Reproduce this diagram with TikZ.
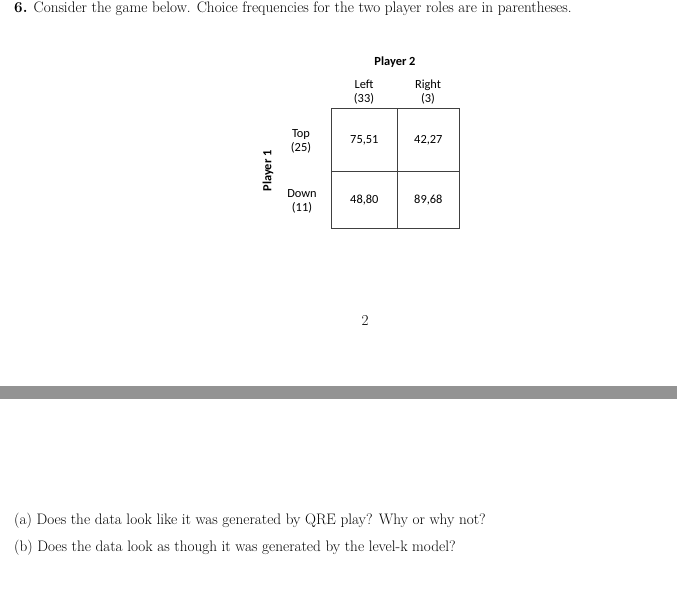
\documentclass[tikz,border=0pt]{standalone}
\usepackage{fontspec}
\newfontfamily\calib{Carlito}
\usetikzlibrary{positioning}
\tikzset{
  tab/.style={font=\calib\fontsize{12.4}{14}\selectfont, align=center, inner sep=1pt},
  cell/.style={draw=black!75, line width=0.7pt, anchor=north west, tab},
  body/.style={font=\fontsize{15.2}{17}\selectfont, anchor=west, inner sep=0pt}
}
\begin{document}
\begin{tikzpicture}[x=1pt, y=-1pt]
  \useasboundingbox (0,0) rectangle (677,599);
  \node[body] (title) at (14,9) {\textbf{6.} Consider the game below. Choice frequencies for the two player roles are in parentheses.};
  % payoff table
  \node[cell, minimum width=66pt, minimum height=63pt] (tl) at (331,108) {75,51};
  \node[cell, minimum width=62pt, minimum height=63pt] (tr) at (397,108) {42,27};
  \node[cell, minimum width=66pt, minimum height=57pt] (bl) at (331,171) {48,80};
  \node[cell, minimum width=62pt, minimum height=57pt] (br) at (397,171) {89,68};
  \node[tab] (left) at (364,92) {Left\\(33)};
  \node[tab] (right) at (428,92) {Right\\(3)};
  \node[tab, font=\calib\bfseries\fontsize{12.4}{14}\selectfont] (p2) at (395,62) {Player 2};
  \node[tab] (top) at (301,141) {Top\\(25)};
  \node[tab] (down) at (302,201) {Down\\(11)};
  \node[tab, font=\calib\bfseries\fontsize{12.4}{14}\selectfont, rotate=90] (p1) at (268,171) {Player 1};
  \node[body, anchor=center] (page) at (365,320) {2};
  % page break bar
  \fill[gray!85] (0,386) rectangle (677,399);
  \node[body] (qa) at (14,521) {(a) Does the data look like it was generated by QRE play? Why or why not?};
  \node[body] (qb) at (14,548) {(b) Does the data look as though it was generated by the level-k model?};
\end{tikzpicture}
\end{document}
